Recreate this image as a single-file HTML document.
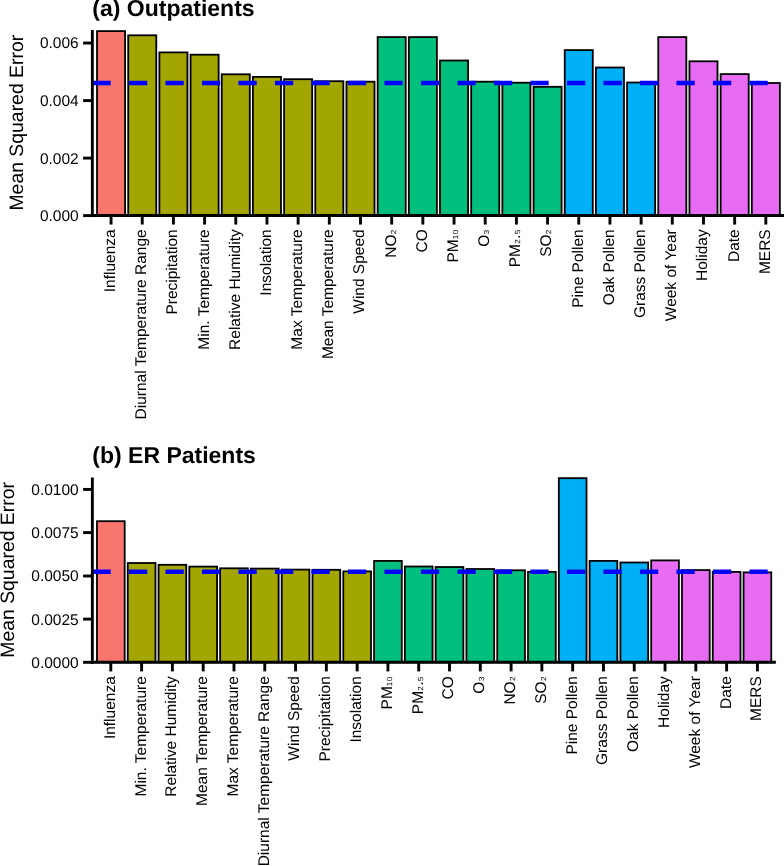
<!DOCTYPE html>
<html><head><meta charset="utf-8"><title>Mean Squared Error</title>
<style>html,body{margin:0;padding:0;background:#fff;}svg{display:block;}text{font-family:"Liberation Sans", Arial, sans-serif;fill:#000;text-rendering:geometricPrecision;}</style>
</head><body>
<svg width="784" height="866" viewBox="0 0 784 866">
<rect width="784" height="866" fill="#fff"/>
<rect x="97.03" y="31.10" width="28.06" height="184.35" fill="#F8766D" stroke="#000" stroke-width="1.8"/>
<rect x="128.21" y="35.30" width="28.06" height="180.15" fill="#A3A500" stroke="#000" stroke-width="1.8"/>
<rect x="159.39" y="52.40" width="28.06" height="163.05" fill="#A3A500" stroke="#000" stroke-width="1.8"/>
<rect x="190.57" y="54.70" width="28.06" height="160.75" fill="#A3A500" stroke="#000" stroke-width="1.8"/>
<rect x="221.75" y="74.30" width="28.06" height="141.15" fill="#A3A500" stroke="#000" stroke-width="1.8"/>
<rect x="252.93" y="76.90" width="28.06" height="138.55" fill="#A3A500" stroke="#000" stroke-width="1.8"/>
<rect x="284.11" y="79.20" width="28.06" height="136.25" fill="#A3A500" stroke="#000" stroke-width="1.8"/>
<rect x="315.29" y="81.20" width="28.06" height="134.25" fill="#A3A500" stroke="#000" stroke-width="1.8"/>
<rect x="346.47" y="81.70" width="28.06" height="133.75" fill="#A3A500" stroke="#000" stroke-width="1.8"/>
<rect x="377.65" y="37.10" width="28.06" height="178.35" fill="#00BF7D" stroke="#000" stroke-width="1.8"/>
<rect x="408.83" y="37.10" width="28.06" height="178.35" fill="#00BF7D" stroke="#000" stroke-width="1.8"/>
<rect x="440.01" y="60.50" width="28.06" height="154.95" fill="#00BF7D" stroke="#000" stroke-width="1.8"/>
<rect x="471.19" y="81.70" width="28.06" height="133.75" fill="#00BF7D" stroke="#000" stroke-width="1.8"/>
<rect x="502.37" y="82.70" width="28.06" height="132.75" fill="#00BF7D" stroke="#000" stroke-width="1.8"/>
<rect x="533.55" y="86.80" width="28.06" height="128.65" fill="#00BF7D" stroke="#000" stroke-width="1.8"/>
<rect x="564.73" y="50.10" width="28.06" height="165.35" fill="#00B0F6" stroke="#000" stroke-width="1.8"/>
<rect x="595.91" y="67.50" width="28.06" height="147.95" fill="#00B0F6" stroke="#000" stroke-width="1.8"/>
<rect x="627.09" y="82.50" width="28.06" height="132.95" fill="#00B0F6" stroke="#000" stroke-width="1.8"/>
<rect x="658.27" y="37.10" width="28.06" height="178.35" fill="#E76BF3" stroke="#000" stroke-width="1.8"/>
<rect x="689.45" y="61.30" width="28.06" height="154.15" fill="#E76BF3" stroke="#000" stroke-width="1.8"/>
<rect x="720.63" y="74.10" width="28.06" height="141.35" fill="#E76BF3" stroke="#000" stroke-width="1.8"/>
<rect x="751.81" y="83.00" width="28.06" height="132.45" fill="#E76BF3" stroke="#000" stroke-width="1.8"/>
<line x1="92.46" y1="83.0" x2="784" y2="83.0" stroke="#0000FF" stroke-width="4.4" stroke-dasharray="18.25 18.25"/>
<line x1="92.35" y1="30.0" x2="92.35" y2="216.90" stroke="#000" stroke-width="2.9"/>
<line x1="90.90" y1="215.45" x2="784.55" y2="215.45" stroke="#000" stroke-width="2.9"/>
<line x1="83.1" y1="43.05" x2="92.35" y2="43.05" stroke="#000" stroke-width="2.9"/>
<text x="78.7" y="48.45" text-anchor="end" font-size="15.5">0.006</text>
<line x1="83.1" y1="100.6" x2="92.35" y2="100.6" stroke="#000" stroke-width="2.9"/>
<text x="78.7" y="106.00" text-anchor="end" font-size="15.5">0.004</text>
<line x1="83.1" y1="158.1" x2="92.35" y2="158.1" stroke="#000" stroke-width="2.9"/>
<text x="78.7" y="163.50" text-anchor="end" font-size="15.5">0.002</text>
<line x1="83.1" y1="215.6" x2="92.35" y2="215.6" stroke="#000" stroke-width="2.9"/>
<text x="78.7" y="221.00" text-anchor="end" font-size="15.5">0.000</text>
<line x1="111.06" y1="215.45" x2="111.06" y2="224.55" stroke="#000" stroke-width="2.9"/>
<text transform="translate(114.96,229.3) rotate(-90)" text-anchor="end" font-size="15.5">Influenza</text>
<line x1="142.24" y1="215.45" x2="142.24" y2="224.55" stroke="#000" stroke-width="2.9"/>
<text transform="translate(146.14,229.3) rotate(-90)" text-anchor="end" font-size="15.5">Diurnal Temperature Range</text>
<line x1="173.42" y1="215.45" x2="173.42" y2="224.55" stroke="#000" stroke-width="2.9"/>
<text transform="translate(177.32,229.3) rotate(-90)" text-anchor="end" font-size="15.5">Precipitation</text>
<line x1="204.60" y1="215.45" x2="204.60" y2="224.55" stroke="#000" stroke-width="2.9"/>
<text transform="translate(208.50,229.3) rotate(-90)" text-anchor="end" font-size="15.5">Min. Temperature</text>
<line x1="235.78" y1="215.45" x2="235.78" y2="224.55" stroke="#000" stroke-width="2.9"/>
<text transform="translate(239.68,229.3) rotate(-90)" text-anchor="end" font-size="15.5">Relative Humidity</text>
<line x1="266.96" y1="215.45" x2="266.96" y2="224.55" stroke="#000" stroke-width="2.9"/>
<text transform="translate(270.86,229.3) rotate(-90)" text-anchor="end" font-size="15.5">Insolation</text>
<line x1="298.14" y1="215.45" x2="298.14" y2="224.55" stroke="#000" stroke-width="2.9"/>
<text transform="translate(302.04,229.3) rotate(-90)" text-anchor="end" font-size="15.5">Max Temperature</text>
<line x1="329.32" y1="215.45" x2="329.32" y2="224.55" stroke="#000" stroke-width="2.9"/>
<text transform="translate(333.22,229.3) rotate(-90)" text-anchor="end" font-size="15.5">Mean Temperature</text>
<line x1="360.50" y1="215.45" x2="360.50" y2="224.55" stroke="#000" stroke-width="2.9"/>
<text transform="translate(364.40,229.3) rotate(-90)" text-anchor="end" font-size="15.5">Wind Speed</text>
<line x1="391.68" y1="215.45" x2="391.68" y2="224.55" stroke="#000" stroke-width="2.9"/>
<text transform="translate(395.58,229.3) rotate(-90)" text-anchor="end" font-size="15.5">NO<tspan font-size="13.2" baseline-shift="1">₂</tspan></text>
<line x1="422.86" y1="215.45" x2="422.86" y2="224.55" stroke="#000" stroke-width="2.9"/>
<text transform="translate(426.76,229.3) rotate(-90)" text-anchor="end" font-size="15.5">CO</text>
<line x1="454.04" y1="215.45" x2="454.04" y2="224.55" stroke="#000" stroke-width="2.9"/>
<text transform="translate(457.94,229.3) rotate(-90)" text-anchor="end" font-size="15.5">PM<tspan font-size="13.2" baseline-shift="1">₁₀</tspan></text>
<line x1="485.22" y1="215.45" x2="485.22" y2="224.55" stroke="#000" stroke-width="2.9"/>
<text transform="translate(489.12,229.3) rotate(-90)" text-anchor="end" font-size="15.5">O<tspan font-size="13.2" baseline-shift="1">₃</tspan></text>
<line x1="516.40" y1="215.45" x2="516.40" y2="224.55" stroke="#000" stroke-width="2.9"/>
<text transform="translate(520.30,229.3) rotate(-90)" text-anchor="end" font-size="15.5">PM<tspan font-size="13.2" baseline-shift="1">₂</tspan>.<tspan font-size="13.2" baseline-shift="1">₅</tspan></text>
<line x1="547.58" y1="215.45" x2="547.58" y2="224.55" stroke="#000" stroke-width="2.9"/>
<text transform="translate(551.48,229.3) rotate(-90)" text-anchor="end" font-size="15.5">SO<tspan font-size="13.2" baseline-shift="1">₂</tspan></text>
<line x1="578.76" y1="215.45" x2="578.76" y2="224.55" stroke="#000" stroke-width="2.9"/>
<text transform="translate(582.66,229.3) rotate(-90)" text-anchor="end" font-size="15.5">Pine Pollen</text>
<line x1="609.94" y1="215.45" x2="609.94" y2="224.55" stroke="#000" stroke-width="2.9"/>
<text transform="translate(613.84,229.3) rotate(-90)" text-anchor="end" font-size="15.5">Oak Pollen</text>
<line x1="641.12" y1="215.45" x2="641.12" y2="224.55" stroke="#000" stroke-width="2.9"/>
<text transform="translate(645.02,229.3) rotate(-90)" text-anchor="end" font-size="15.5">Grass Pollen</text>
<line x1="672.30" y1="215.45" x2="672.30" y2="224.55" stroke="#000" stroke-width="2.9"/>
<text transform="translate(676.20,229.3) rotate(-90)" text-anchor="end" font-size="15.5">Week of Year</text>
<line x1="703.48" y1="215.45" x2="703.48" y2="224.55" stroke="#000" stroke-width="2.9"/>
<text transform="translate(707.38,229.3) rotate(-90)" text-anchor="end" font-size="15.5">Holiday</text>
<line x1="734.66" y1="215.45" x2="734.66" y2="224.55" stroke="#000" stroke-width="2.9"/>
<text transform="translate(738.56,229.3) rotate(-90)" text-anchor="end" font-size="15.5">Date</text>
<line x1="765.84" y1="215.45" x2="765.84" y2="224.55" stroke="#000" stroke-width="2.9"/>
<text transform="translate(769.74,229.3) rotate(-90)" text-anchor="end" font-size="15.5">MERS</text>
<text x="92.3" y="16.1" font-size="23" font-weight="bold">(a) Outpatients</text>
<text transform="translate(23.1,122.7) rotate(-90)" text-anchor="middle" font-size="19.4">Mean Squared Error</text>
<rect x="96.97" y="521.20" width="27.71" height="141.10" fill="#F8766D" stroke="#000" stroke-width="1.8"/>
<rect x="127.76" y="563.00" width="27.71" height="99.30" fill="#A3A500" stroke="#000" stroke-width="1.8"/>
<rect x="158.55" y="564.80" width="27.71" height="97.50" fill="#A3A500" stroke="#000" stroke-width="1.8"/>
<rect x="189.34" y="566.60" width="27.71" height="95.70" fill="#A3A500" stroke="#000" stroke-width="1.8"/>
<rect x="220.13" y="568.30" width="27.71" height="94.00" fill="#A3A500" stroke="#000" stroke-width="1.8"/>
<rect x="250.92" y="568.60" width="27.71" height="93.70" fill="#A3A500" stroke="#000" stroke-width="1.8"/>
<rect x="281.71" y="569.60" width="27.71" height="92.70" fill="#A3A500" stroke="#000" stroke-width="1.8"/>
<rect x="312.50" y="569.80" width="27.71" height="92.50" fill="#A3A500" stroke="#000" stroke-width="1.8"/>
<rect x="343.29" y="571.40" width="27.71" height="90.90" fill="#A3A500" stroke="#000" stroke-width="1.8"/>
<rect x="374.08" y="560.90" width="27.71" height="101.40" fill="#00BF7D" stroke="#000" stroke-width="1.8"/>
<rect x="404.87" y="566.50" width="27.71" height="95.80" fill="#00BF7D" stroke="#000" stroke-width="1.8"/>
<rect x="435.66" y="567.00" width="27.71" height="95.30" fill="#00BF7D" stroke="#000" stroke-width="1.8"/>
<rect x="466.45" y="569.00" width="27.71" height="93.30" fill="#00BF7D" stroke="#000" stroke-width="1.8"/>
<rect x="497.24" y="570.30" width="27.71" height="92.00" fill="#00BF7D" stroke="#000" stroke-width="1.8"/>
<rect x="528.03" y="571.90" width="27.71" height="90.40" fill="#00BF7D" stroke="#000" stroke-width="1.8"/>
<rect x="558.82" y="478.20" width="27.71" height="184.10" fill="#00B0F6" stroke="#000" stroke-width="1.8"/>
<rect x="589.61" y="560.90" width="27.71" height="101.40" fill="#00B0F6" stroke="#000" stroke-width="1.8"/>
<rect x="620.40" y="562.50" width="27.71" height="99.80" fill="#00B0F6" stroke="#000" stroke-width="1.8"/>
<rect x="651.19" y="560.40" width="27.71" height="101.90" fill="#E76BF3" stroke="#000" stroke-width="1.8"/>
<rect x="681.98" y="570.10" width="27.71" height="92.20" fill="#E76BF3" stroke="#000" stroke-width="1.8"/>
<rect x="712.77" y="571.90" width="27.71" height="90.40" fill="#E76BF3" stroke="#000" stroke-width="1.8"/>
<rect x="743.56" y="572.40" width="27.71" height="89.90" fill="#E76BF3" stroke="#000" stroke-width="1.8"/>
<line x1="92.46" y1="571.7" x2="784" y2="571.7" stroke="#0000FF" stroke-width="4.4" stroke-dasharray="18.25 18.25"/>
<line x1="92.35" y1="477.5" x2="92.35" y2="663.75" stroke="#000" stroke-width="2.9"/>
<line x1="90.90" y1="662.3" x2="775.89" y2="662.3" stroke="#000" stroke-width="2.9"/>
<line x1="83.1" y1="489.4" x2="92.35" y2="489.4" stroke="#000" stroke-width="2.9"/>
<text x="78.7" y="494.80" text-anchor="end" font-size="15.5">0.0100</text>
<line x1="83.1" y1="532.6" x2="92.35" y2="532.6" stroke="#000" stroke-width="2.9"/>
<text x="78.7" y="538.00" text-anchor="end" font-size="15.5">0.0075</text>
<line x1="83.1" y1="576.0" x2="92.35" y2="576.0" stroke="#000" stroke-width="2.9"/>
<text x="78.7" y="581.40" text-anchor="end" font-size="15.5">0.0050</text>
<line x1="83.1" y1="619.1" x2="92.35" y2="619.1" stroke="#000" stroke-width="2.9"/>
<text x="78.7" y="624.50" text-anchor="end" font-size="15.5">0.0025</text>
<line x1="83.1" y1="662.3" x2="92.35" y2="662.3" stroke="#000" stroke-width="2.9"/>
<text x="78.7" y="667.70" text-anchor="end" font-size="15.5">0.0000</text>
<line x1="110.82" y1="662.3" x2="110.82" y2="671.40" stroke="#000" stroke-width="2.9"/>
<text transform="translate(114.72,676.2) rotate(-90)" text-anchor="end" font-size="15.5">Influenza</text>
<line x1="141.61" y1="662.3" x2="141.61" y2="671.40" stroke="#000" stroke-width="2.9"/>
<text transform="translate(145.51,676.2) rotate(-90)" text-anchor="end" font-size="15.5">Min. Temperature</text>
<line x1="172.40" y1="662.3" x2="172.40" y2="671.40" stroke="#000" stroke-width="2.9"/>
<text transform="translate(176.30,676.2) rotate(-90)" text-anchor="end" font-size="15.5">Relative Humidity</text>
<line x1="203.19" y1="662.3" x2="203.19" y2="671.40" stroke="#000" stroke-width="2.9"/>
<text transform="translate(207.09,676.2) rotate(-90)" text-anchor="end" font-size="15.5">Mean Temperature</text>
<line x1="233.98" y1="662.3" x2="233.98" y2="671.40" stroke="#000" stroke-width="2.9"/>
<text transform="translate(237.88,676.2) rotate(-90)" text-anchor="end" font-size="15.5">Max Temperature</text>
<line x1="264.77" y1="662.3" x2="264.77" y2="671.40" stroke="#000" stroke-width="2.9"/>
<text transform="translate(268.67,676.2) rotate(-90)" text-anchor="end" font-size="15.5">Diurnal Temperature Range</text>
<line x1="295.56" y1="662.3" x2="295.56" y2="671.40" stroke="#000" stroke-width="2.9"/>
<text transform="translate(299.46,676.2) rotate(-90)" text-anchor="end" font-size="15.5">Wind Speed</text>
<line x1="326.35" y1="662.3" x2="326.35" y2="671.40" stroke="#000" stroke-width="2.9"/>
<text transform="translate(330.25,676.2) rotate(-90)" text-anchor="end" font-size="15.5">Precipitation</text>
<line x1="357.14" y1="662.3" x2="357.14" y2="671.40" stroke="#000" stroke-width="2.9"/>
<text transform="translate(361.04,676.2) rotate(-90)" text-anchor="end" font-size="15.5">Insolation</text>
<line x1="387.93" y1="662.3" x2="387.93" y2="671.40" stroke="#000" stroke-width="2.9"/>
<text transform="translate(391.83,676.2) rotate(-90)" text-anchor="end" font-size="15.5">PM<tspan font-size="13.2" baseline-shift="1">₁₀</tspan></text>
<line x1="418.72" y1="662.3" x2="418.72" y2="671.40" stroke="#000" stroke-width="2.9"/>
<text transform="translate(422.62,676.2) rotate(-90)" text-anchor="end" font-size="15.5">PM<tspan font-size="13.2" baseline-shift="1">₂</tspan>.<tspan font-size="13.2" baseline-shift="1">₅</tspan></text>
<line x1="449.51" y1="662.3" x2="449.51" y2="671.40" stroke="#000" stroke-width="2.9"/>
<text transform="translate(453.41,676.2) rotate(-90)" text-anchor="end" font-size="15.5">CO</text>
<line x1="480.30" y1="662.3" x2="480.30" y2="671.40" stroke="#000" stroke-width="2.9"/>
<text transform="translate(484.20,676.2) rotate(-90)" text-anchor="end" font-size="15.5">O<tspan font-size="13.2" baseline-shift="1">₃</tspan></text>
<line x1="511.09" y1="662.3" x2="511.09" y2="671.40" stroke="#000" stroke-width="2.9"/>
<text transform="translate(514.99,676.2) rotate(-90)" text-anchor="end" font-size="15.5">NO<tspan font-size="13.2" baseline-shift="1">₂</tspan></text>
<line x1="541.88" y1="662.3" x2="541.88" y2="671.40" stroke="#000" stroke-width="2.9"/>
<text transform="translate(545.78,676.2) rotate(-90)" text-anchor="end" font-size="15.5">SO<tspan font-size="13.2" baseline-shift="1">₂</tspan></text>
<line x1="572.67" y1="662.3" x2="572.67" y2="671.40" stroke="#000" stroke-width="2.9"/>
<text transform="translate(576.57,676.2) rotate(-90)" text-anchor="end" font-size="15.5">Pine Pollen</text>
<line x1="603.46" y1="662.3" x2="603.46" y2="671.40" stroke="#000" stroke-width="2.9"/>
<text transform="translate(607.36,676.2) rotate(-90)" text-anchor="end" font-size="15.5">Grass Pollen</text>
<line x1="634.25" y1="662.3" x2="634.25" y2="671.40" stroke="#000" stroke-width="2.9"/>
<text transform="translate(638.15,676.2) rotate(-90)" text-anchor="end" font-size="15.5">Oak Pollen</text>
<line x1="665.04" y1="662.3" x2="665.04" y2="671.40" stroke="#000" stroke-width="2.9"/>
<text transform="translate(668.94,676.2) rotate(-90)" text-anchor="end" font-size="15.5">Holiday</text>
<line x1="695.83" y1="662.3" x2="695.83" y2="671.40" stroke="#000" stroke-width="2.9"/>
<text transform="translate(699.73,676.2) rotate(-90)" text-anchor="end" font-size="15.5">Week of Year</text>
<line x1="726.62" y1="662.3" x2="726.62" y2="671.40" stroke="#000" stroke-width="2.9"/>
<text transform="translate(730.52,676.2) rotate(-90)" text-anchor="end" font-size="15.5">Date</text>
<line x1="757.41" y1="662.3" x2="757.41" y2="671.40" stroke="#000" stroke-width="2.9"/>
<text transform="translate(761.31,676.2) rotate(-90)" text-anchor="end" font-size="15.5">MERS</text>
<text x="92.3" y="462.5" font-size="23" font-weight="bold">(b) ER Patients</text>
<text transform="translate(14.3,569.9) rotate(-90)" text-anchor="middle" font-size="19.4">Mean Squared Error</text>
</svg>
</body></html>
